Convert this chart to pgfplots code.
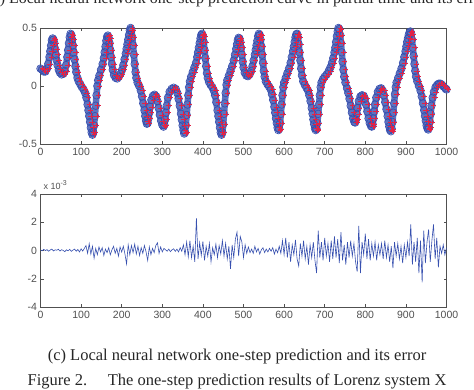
\documentclass[border=0pt]{standalone}
\usepackage{pgfplots}
\pgfplotsset{compat=1.18}
\usepackage{pgfplotstable}
\usepackage{fontspec}
\setmainfont{Liberation Serif}
\newfontfamily\arial{Liberation Sans}
\definecolor{mblue}{RGB}{55,80,175}
\definecolor{mred}{RGB}{225,35,70}
\definecolor{axgray}{RGB}{80,80,80}

\pgfplotstableread{
x y
0 0.150
4 0.140
8 0.125
12 0.125
16 0.150
19 0.190
22 0.250
24 0.300
26 0.350
28 0.395
30 0.410
32 0.400
34 0.370
36 0.320
38 0.270
40 0.220
42 0.180
45 0.140
48 0.115
52 0.100
56 0.105
60 0.130
63 0.180
66 0.250
68 0.310
70 0.370
72 0.420
74 0.450
76 0.440
78 0.400
80 0.350
82 0.290
84 0.230
86 0.170
88 0.120
91 0.070
94 0.040
98 0.015
102 -0.010
106 -0.030
110 -0.060
113 -0.100
116 -0.160
118 -0.210
120 -0.260
122 -0.310
124 -0.360
126 -0.400
128 -0.420
130 -0.400
132 -0.340
134 -0.260
136 -0.170
138 -0.080
140 0.000
142 0.050
145 0.090
149 0.140
153 0.190
156 0.240
158 0.290
160 0.340
162 0.390
164 0.425
166 0.435
168 0.415
170 0.370
172 0.310
174 0.250
176 0.190
178 0.140
181 0.095
185 0.070
189 0.065
193 0.080
197 0.105
201 0.140
204 0.180
207 0.230
210 0.280
212 0.320
214 0.360
216 0.400
218 0.440
220 0.480
222 0.500
224 0.480
226 0.420
228 0.350
230 0.270
232 0.190
234 0.120
236 0.070
239 0.030
243 0.000
247 -0.040
250 -0.090
253 -0.150
256 -0.210
258 -0.260
260 -0.300
262 -0.325
264 -0.320
266 -0.280
268 -0.230
270 -0.180
273 -0.120
277 -0.085
281 -0.075
285 -0.090
288 -0.130
291 -0.190
294 -0.250
297 -0.300
300 -0.335
303 -0.350
305 -0.335
307 -0.290
309 -0.230
311 -0.170
314 -0.100
318 -0.050
323 -0.025
328 -0.015
333 -0.025
337 -0.060
340 -0.110
343 -0.170
346 -0.240
348 -0.290
350 -0.340
352 -0.380
354 -0.410
356 -0.400
358 -0.340
360 -0.250
362 -0.160
364 -0.080
366 -0.010
368 0.040
371 0.080
375 0.120
379 0.160
383 0.200
386 0.250
388 0.290
390 0.330
392 0.370
394 0.410
396 0.440
398 0.450
400 0.430
402 0.380
404 0.310
406 0.240
408 0.170
410 0.110
412 0.070
415 0.035
419 0.010
423 -0.010
427 -0.040
430 -0.080
433 -0.140
436 -0.210
438 -0.260
440 -0.310
442 -0.360
444 -0.400
446 -0.420
448 -0.400
450 -0.330
452 -0.240
454 -0.150
456 -0.060
458 0.010
460 0.050
464 0.090
468 0.130
472 0.170
476 0.220
479 0.270
482 0.320
484 0.360
486 0.395
488 0.415
490 0.410
492 0.380
494 0.330
496 0.270
498 0.210
500 0.160
503 0.115
507 0.090
511 0.085
515 0.100
519 0.130
522 0.170
525 0.220
528 0.270
530 0.310
532 0.350
534 0.390
536 0.430
538 0.450
540 0.440
542 0.400
544 0.340
546 0.270
548 0.200
550 0.130
552 0.080
555 0.040
559 0.015
563 -0.005
567 -0.030
570 -0.070
573 -0.120
576 -0.180
578 -0.230
580 -0.280
582 -0.320
584 -0.360
586 -0.380
588 -0.370
590 -0.320
592 -0.240
594 -0.160
596 -0.080
598 -0.010
600 0.030
604 0.070
608 0.110
612 0.150
616 0.200
619 0.250
622 0.300
624 0.340
626 0.380
628 0.420
630 0.445
632 0.450
634 0.420
636 0.360
638 0.290
640 0.220
642 0.150
644 0.090
647 0.040
651 0.010
655 -0.015
659 -0.040
662 -0.080
665 -0.130
668 -0.190
670 -0.240
672 -0.290
674 -0.330
676 -0.365
678 -0.380
680 -0.370
682 -0.320
684 -0.240
686 -0.160
688 -0.080
690 -0.010
692 0.030
696 0.060
700 0.080
705 0.100
710 0.130
714 0.160
718 0.200
721 0.240
724 0.290
726 0.330
728 0.380
730 0.430
732 0.470
734 0.500
736 0.490
738 0.440
740 0.370
742 0.290
744 0.210
746 0.140
748 0.080
751 0.030
755 -0.020
758 -0.060
761 -0.110
764 -0.170
767 -0.230
770 -0.280
773 -0.310
775 -0.315
777 -0.290
779 -0.240
781 -0.190
784 -0.130
788 -0.090
792 -0.080
796 -0.085
799 -0.110
802 -0.160
805 -0.220
808 -0.280
811 -0.320
814 -0.345
816 -0.350
818 -0.330
820 -0.280
822 -0.220
824 -0.160
827 -0.100
831 -0.050
835 -0.025
839 -0.020
843 -0.040
846 -0.080
849 -0.140
852 -0.200
855 -0.260
857 -0.310
859 -0.350
861 -0.380
863 -0.390
865 -0.370
867 -0.310
869 -0.230
871 -0.150
873 -0.070
875 -0.010
877 0.030
881 0.070
885 0.110
889 0.150
893 0.200
896 0.250
899 0.300
901 0.340
903 0.380
905 0.410
907 0.440
909 0.460
911 0.470
913 0.450
915 0.400
917 0.330
919 0.260
921 0.190
923 0.130
925 0.080
928 0.040
932 0.000
936 -0.040
939 -0.090
942 -0.150
945 -0.210
947 -0.260
949 -0.300
951 -0.340
953 -0.365
955 -0.375
957 -0.360
959 -0.310
961 -0.240
963 -0.170
966 -0.100
969 -0.050
973 -0.010
977 0.010
981 0.020
985 0.020
989 0.010
993 -0.005
997 -0.020
1000 -0.030
}\seriesx

\pgfplotstableread{
x e
0 0.05
4 -0.02
8 0.08
12 0.00
16 0.06
20 -0.05
24 0.04
28 0.10
32 -0.03
36 0.05
40 0.02
44 0.09
48 -0.04
52 0.06
56 0.00
60 -0.08
64 0.05
68 -0.02
72 0.08
76 -0.06
80 0.03
84 0.10
88 -0.05
92 0.07
96 -0.10
100 0.12
104 -0.04
108 0.15
112 0.35
116 -0.20
120 0.48
124 -0.25
128 0.30
132 -0.55
136 0.15
140 -0.30
144 0.25
148 -0.10
152 0.20
156 -0.35
160 0.10
164 -0.15
168 0.20
172 -0.30
176 0.05
180 0.30
184 -0.20
188 0.15
192 -0.40
196 0.25
200 -0.10
204 0.30
208 -0.25
212 -0.95
216 0.40
220 -0.30
224 0.35
228 -0.15
232 0.45
236 -0.25
240 0.30
244 -0.35
248 0.20
252 -0.20
256 0.35
260 -0.10
264 -0.70
268 0.25
272 -0.30
276 0.15
280 -0.15
284 0.35
288 0.55
292 -0.20
296 0.25
300 -0.10
304 0.15
308 0.05
312 -0.05
316 0.10
320 -0.08
324 0.05
328 0.12
332 -0.06
336 0.10
340 -0.10
344 0.20
348 -0.05
352 0.40
356 -0.30
360 0.60
364 -0.45
368 0.70
372 -0.50
376 0.30
380 -0.80
384 2.30
388 -0.60
392 0.55
396 -0.35
400 0.65
404 -0.70
408 0.30
412 -0.40
416 0.50
420 -0.80
424 0.20
428 -0.30
432 0.45
436 -0.50
440 0.35
444 -0.25
448 0.70
452 -0.40
456 0.50
460 -0.60
464 0.30
468 -1.30
472 0.40
476 -0.50
480 0.80
484 1.30
488 -0.40
492 1.00
496 0.60
500 -0.50
504 0.40
508 -0.20
512 0.25
516 -0.15
520 0.10
524 -0.20
528 0.30
532 -0.10
536 0.15
540 -0.25
544 0.05
548 0.20
552 -0.15
556 0.10
560 -0.10
564 0.15
568 -0.05
572 0.20
576 -0.25
580 0.10
584 -0.15
588 0.30
592 -0.20
596 0.70
600 -0.30
604 0.90
608 -0.50
612 0.60
616 -0.80
620 0.40
624 -0.30
628 0.75
632 -0.60
636 -1.10
640 0.50
644 -0.40
648 0.70
652 -0.60
656 0.30
660 -1.00
664 0.40
668 -0.50
672 0.60
676 -0.70
680 -1.60
684 1.40
688 -0.50
692 0.60
696 -0.70
700 0.90
704 -0.40
708 0.50
712 -0.80
716 0.70
720 -0.60
724 1.00
728 -0.50
732 0.80
736 -0.90
740 1.30
744 -0.70
748 0.40
752 -1.00
756 0.60
760 -0.50
764 0.70
768 -0.40
772 0.50
776 -0.80
780 -1.50
784 1.75
788 -1.60
792 0.60
796 -0.30
800 1.20
804 -0.60
808 0.80
812 -0.70
816 0.50
820 -0.40
824 0.60
828 -0.70
832 0.40
836 -0.30
840 0.50
844 -0.60
848 0.70
852 -0.50
856 0.40
860 -0.80
864 0.30
868 -1.25
872 0.60
876 -0.40
880 0.50
884 -0.60
888 0.30
892 -0.90
896 0.40
900 -0.50
904 0.60
908 -0.40
912 1.85
916 -1.00
920 0.60
924 -0.80
928 0.90
932 -1.60
936 0.70
940 -2.25
944 1.40
948 -0.90
952 0.60
956 1.50
960 -0.80
964 0.70
968 1.85
972 -0.60
976 0.90
980 -1.20
984 0.30
988 -0.20
992 0.40
996 -0.30
1000 0.20
}\seriese

\pgfplotsset{
  mstyle/.style={
    scale only axis,
    width=406pt,
    xmin=0, xmax=1000,
    xtick={0,100,...,1000},
    xticklabels={0,100,200,300,400,500,600,700,800,900,1000},
    axis line style={axgray, line width=0.6pt},
    tick style={axgray, line width=0.5pt},
    major tick length=3pt,
    tick align=inside,
    ticklabel style={font=\arial\fontsize{10.5}{12}\selectfont, text=axgray},
    xticklabel style={yshift=-1pt},
  }
}

\begin{document}
\begin{tikzpicture}[x=1pt,y=1pt]
\useasboundingbox (0,0) rectangle (474,389);
\node[anchor=base, font=\fontsize{16}{18}\selectfont, text=black!85] at (237,385.5)
  {(b) Local neural network one-step prediction curve in partial time and its error};

\begin{axis}[mstyle,
  at={(40.5pt,245pt)}, anchor=south west,
  height=116pt,
  ymin=-0.5, ymax=0.5,
  ytick={-0.5,0,0.5},
  yticklabels={-0.5,0,0.5},
  clip=false,
]
\addplot[no marks, color=mblue!80!white, line width=6.5pt, line join=round, line cap=round] table[x=x,y=y] {\seriesx};
\addplot[only marks, mark=o, mark size=3.8pt, color=mblue, line width=0.7pt] table[x=x,y=y] {\seriesx};
\addplot[only marks, mark=+, mark size=2.8pt, color=mred, line width=0.55pt, xshift=2pt] table[x=x,y=y] {\seriesx};
\end{axis}

\begin{axis}[mstyle,
  at={(40.5pt,82pt)}, anchor=south west,
  height=113pt,
  ymin=-4, ymax=4,
  ytick={-4,-2,0,2,4},
  yticklabels={-4,-2,0,2,4},
]
\addplot[color=mblue, line width=0.6pt] table[x=x,y=e] {\seriese};
\end{axis}
\node[anchor=base west, font=\arial\fontsize{9}{10}\selectfont, text=axgray] at (40,200)
  {x 10\raisebox{0.8ex}{\fontsize{7}{8}\selectfont -3}};

\node[anchor=base, font=\fontsize{16.5}{18}\selectfont, text=black!85] at (237,28.5)
  {(c) Local neural network one-step prediction and its error};
\node[anchor=base, font=\fontsize{16.5}{18}\selectfont, text=black!85] at (237,4)
  {Figure 2.\quad\ The one-step prediction results of Lorenz system X};
\end{tikzpicture}
\end{document}
